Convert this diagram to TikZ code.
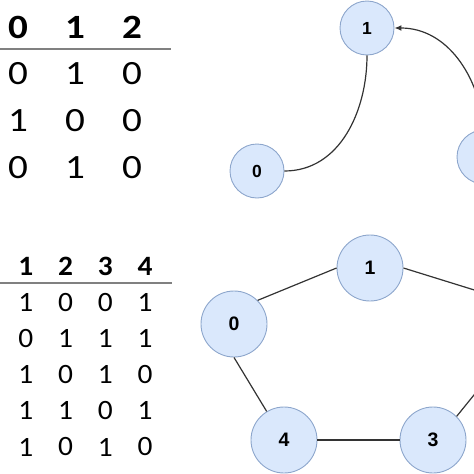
\documentclass[tikz,border=0pt]{standalone}
\usepackage{fontspec}
\setmainfont{Carlito}
\newfontfamily\upperfont[FakeStretch=1.15]{Carlito}
\newfontfamily\lowerfont[FakeStretch=1.05]{Carlito}
\newfontfamily\labelfont{Liberation Sans}
\usetikzlibrary{arrows.meta}
\definecolor{vfill}{HTML}{DAE8FC}
\definecolor{vdraw}{HTML}{8DA6CC}
\definecolor{edgegray}{HTML}{333333}
\definecolor{rulegray}{HTML}{808080}

\begin{document}
\begin{tikzpicture} [
    x=1pt, y=-1pt,
    smallvertex/.style = { circle, draw=vdraw, fill=vfill, line width=0.9pt, inner sep=0pt,
                           minimum size=54pt, font=\labelfont\bfseries\fontsize{17.5}{17.5}\selectfont },
    bigvertex/.style   = { circle, draw=vdraw, fill=vfill, line width=0.9pt, inner sep=0pt,
                           minimum size=66pt, font=\labelfont\bfseries\fontsize{19.5}{19.5}\selectfont },
    cellA/.style       = { inner sep=0pt, minimum width=57pt, minimum height=47pt, text centered,
                           font=\upperfont\fontsize{34}{34}\selectfont },
    headA/.style       = { cellA, font=\upperfont\fontsize{34}{34}\selectfont\bfseries },
    cellB/.style       = { inner sep=0pt, minimum width=39.7pt, minimum height=36.2pt, text centered,
                           font=\lowerfont\fontsize{28}{28}\selectfont },
    headB/.style       = { cellB, font=\lowerfont\fontsize{28}{28}\selectfont\bfseries },
    line/.style        = { draw=edgegray, line width=1.2pt },
  ]
  \useasboundingbox (0,0) rectangle (474,474);
  \clip (0,0) rectangle (474,474);

  % Define tables in matrix
  \matrix [column sep=0pt, row sep=0pt] at (75,97.5) {
\node[headA](ha0){0}; & \node[headA](ha1){1}; & \node[headA](ha2){2}; \\
\node[cellA](a00){0}; & \node[cellA](a01){1}; & \node[cellA](a02){0}; \\
\node[cellA](a10){1}; & \node[cellA](a11){0}; & \node[cellA](a12){0}; \\
\node[cellA](a20){0}; & \node[cellA](a21){1}; & \node[cellA](a22){0}; \\
  };
  \draw[rulegray, line width=2pt] (0,49) -- (171,49);

  \matrix [column sep=0pt, row sep=0pt] at (85.5,356.5) {
\node[headB](hb1){1}; & \node[headB](hb2){2}; & \node[headB](hb3){3}; & \node[headB](hb4){4}; \\
\node[cellB](b01){1}; & \node[cellB](b02){0}; & \node[cellB](b03){0}; & \node[cellB](b04){1}; \\
\node[cellB](b11){0}; & \node[cellB](b12){1}; & \node[cellB](b13){1}; & \node[cellB](b14){1}; \\
\node[cellB](b21){1}; & \node[cellB](b22){0}; & \node[cellB](b23){1}; & \node[cellB](b24){0}; \\
\node[cellB](b31){1}; & \node[cellB](b32){1}; & \node[cellB](b33){0}; & \node[cellB](b34){1}; \\
\node[cellB](b41){1}; & \node[cellB](b42){0}; & \node[cellB](b43){1}; & \node[cellB](b44){0}; \\
  };
  \draw[rulegray, line width=2pt] (0,283) -- (172,283);

  % upper graph
  \node[smallvertex](u0) at (257,171) {0};
  \node[smallvertex](u1) at (367,28) {1};
  \node[smallvertex](u2) at (484,157) {};

  % lower graph
  \node[bigvertex](l0) at (234,324) {0};
  \node[bigvertex](l1) at (370,268) {1};
  \node[bigvertex](l2) at (542,311) {};
  \node[bigvertex](l3) at (433,440) {3};
  \node[bigvertex](l4) at (284,440) {4};

  % connect the nodes
		\path [line] (u0.east) to[out=0, in=-90] (u1.south);
		\path [line, -{Latex[length=7pt, width=6pt]}] (u2.north) to[out=95, in=0] (u1.east);
		\path [line] (l0.north east) -- (l1.west);
		\path [line] (l1.east) -- (l2);
		\path [line] (l3.north east) -- (l2);
		\path [line] (l4.east) -- (l3.west);
		\path [line] (l0.south) -- (l4);
\end{tikzpicture}
\end{document}
